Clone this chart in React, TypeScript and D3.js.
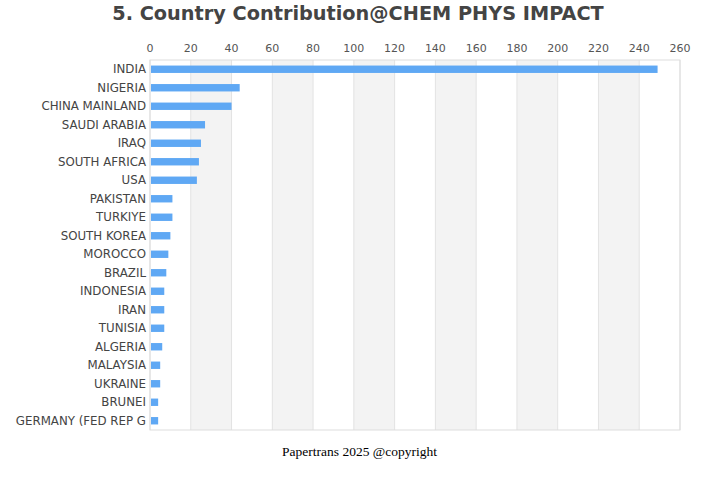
import { range, scaleBand, scaleLinear } from 'd3'

const WIDTH = 720
const HEIGHT = 480
const LEFT = 150
const RIGHT = 680
const TOP = 60
const BOTTOM = 430

const countries = [
  'INDIA',
  'NIGERIA',
  'CHINA MAINLAND',
  'SAUDI ARABIA',
  'IRAQ',
  'SOUTH AFRICA',
  'USA',
  'PAKISTAN',
  'TURKIYE',
  'SOUTH KOREA',
  'MOROCCO',
  'BRAZIL',
  'INDONESIA',
  'IRAN',
  'TUNISIA',
  'ALGERIA',
  'MALAYSIA',
  'UKRAINE',
  'BRUNEI',
  'GERMANY (FED REP G',
]
const papers = [249, 44, 40, 27, 25, 24, 23, 11, 11, 10, 9, 8, 7, 7, 7, 6, 5, 5, 4, 4]
const xTicks = range(0, 261, 20)

export default function App() {
  const x = scaleLinear().domain([0, 260]).range([LEFT, RIGHT])
  const y = scaleBand<string>().domain(countries).range([TOP, BOTTOM]).paddingInner(0.6).paddingOuter(0.3)

  return (
    <svg width={WIDTH} height={HEIGHT} style={{ position: 'absolute', left: 0, top: 0 }}>
      <rect width={WIDTH} height={HEIGHT} fill="#fff" />
      <text
        x={358}
        y={20}
        textAnchor="middle"
        fontFamily="DejaVu Sans, sans-serif"
        fontWeight="bold"
        fontSize={19.3}
        fill="#444"
      >
        5. Country Contribution@CHEM PHYS IMPACT
      </text>

      {xTicks.slice(0, -1).map((t, i) =>
        i % 2 === 1 ? (
          <rect key={`band-${t}`} x={x(t)} y={TOP} width={x(t + 20) - x(t)} height={BOTTOM - TOP} fill="#f3f3f3" />
        ) : null,
      )}
      {xTicks.map((t) => (
        <line key={`grid-${t}`} x1={x(t)} x2={x(t)} y1={TOP} y2={BOTTOM} stroke="#e3e3e3" />
      ))}
      <rect x={LEFT} y={TOP} width={RIGHT - LEFT} height={BOTTOM - TOP} fill="none" stroke="#ddd" />

      {xTicks.map((t) => (
        <text
          key={`tick-${t}`}
          x={x(t)}
          y={52}
          textAnchor="middle"
          fontFamily="DejaVu Sans, sans-serif"
          fontSize={11}
          fill="#555"
        >
          {t}
        </text>
      ))}

      {countries.map((c, i) => (
        <g key={c}>
          <rect
            x={x(0) + 1}
            y={y(c) ?? 0}
            width={x(papers[i]) - x(0) - 1}
            height={y.bandwidth()}
            fill="#5fa8f4"
          />
          <text
            x={LEFT - 4}
            y={(y(c) ?? 0) + y.bandwidth() / 2}
            dy="0.35em"
            textAnchor="end"
            fontFamily="DejaVu Sans, sans-serif"
            fontSize={11.8}
            fill="#444"
          >
            {c}
          </text>
        </g>
      ))}

      <text x={359.5} y={456} textAnchor="middle" fontFamily="Liberation Serif, serif" fontSize={13.5} fill="#000">
        Papertrans 2025 @copyright
      </text>
    </svg>
  )
}
